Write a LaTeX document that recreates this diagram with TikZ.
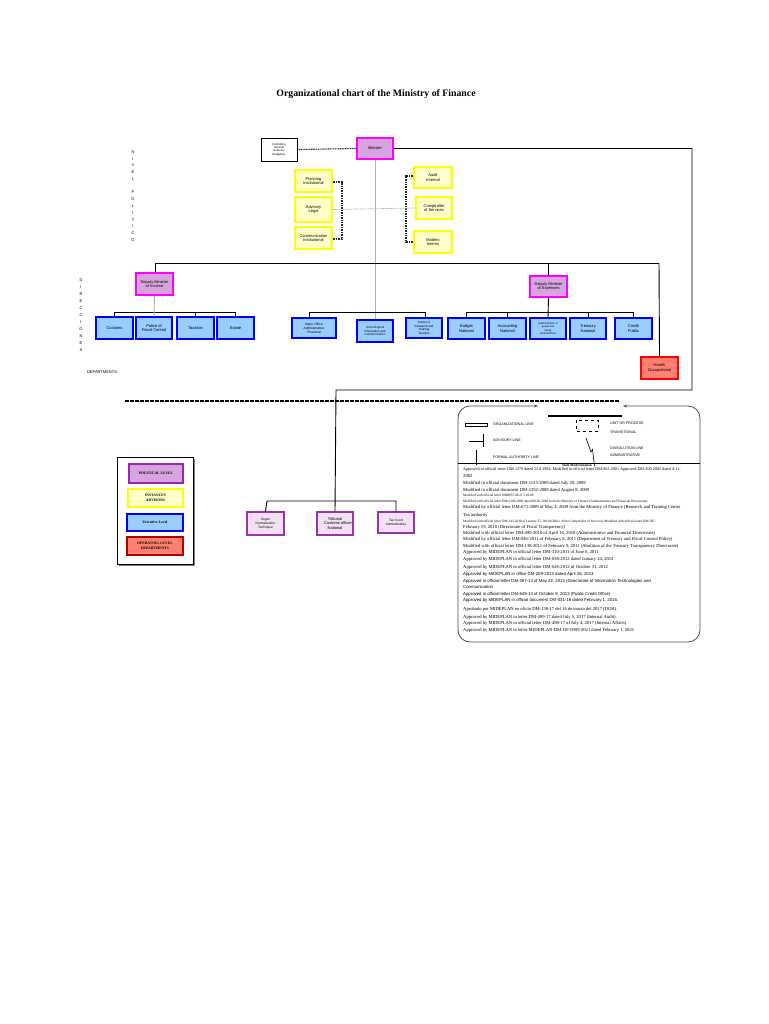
\documentclass[tikz,border=0pt]{standalone}
\usepackage{fontspec}
\setmainfont{Liberation Serif}
\setsansfont{Liberation Sans}
\usetikzlibrary{arrows.meta}

\definecolor{polfill}{RGB}{216,164,224}
\definecolor{polline}{RGB}{255,0,255}
\definecolor{advfill}{RGB}{255,255,200}
\definecolor{advline}{RGB}{255,255,0}
\definecolor{exefill}{RGB}{153,204,255}
\definecolor{exeline}{RGB}{0,0,255}
\definecolor{opefill}{RGB}{255,128,112}
\definecolor{opeline}{RGB}{255,0,0}
\definecolor{trifill}{RGB}{242,224,245}
\definecolor{triline}{RGB}{153,51,170}
\definecolor{legpol}{RGB}{150,40,170}

\newcommand\txA{\fontsize{4.6}{5}\selectfont}
\newcommand\txB{\fontsize{4.1}{5}\selectfont}
\newcommand\txS{\fontsize{3.4}{4}\selectfont}
\newcommand\txF{\sffamily\fontsize{4.3}{5}\selectfont}
\newcommand\tline[4]{\node[anchor=base west, inner sep=0pt, font=#3] (#1) at (463,#2) {#4};}

\tikzset{
 box/.style={rectangle, inner sep=0pt, align=center, font=\sffamily\fontsize{4}{4.6}\selectfont, line width=1.1pt},
 polbox/.style={box, draw=polline, fill=polfill},
 advbox/.style={box, draw=advline, fill=advfill},
 exebox/.style={box, draw=exeline, fill=exefill},
 opebox/.style={box, draw=opeline, fill=opefill},
 tribox/.style={box, draw=triline, fill=trifill},
 conn/.style={draw=black, line width=0.9pt},
 grayconn/.style={draw=black!30, line width=0.9pt},
 dotconn/.style={draw=black!85, line width=1.1pt, dash pattern=on 1pt off 0.7pt},
 graydot/.style={draw=black!35, line width=0.7pt, dash pattern=on 1.5pt off 1pt},
 legbox/.style={rectangle, inner sep=0pt, align=center, font=\bfseries\fontsize{3.7}{4.6}\selectfont, line width=1.1pt},
 legtxt/.style={anchor=west, inner sep=0pt, font=\sffamily\fontsize{3.6}{4}\selectfont},
 vlet/.style={inner sep=0pt, font=\sffamily\fontsize{4}{4}\selectfont},
}

\begin{document}
\begin{tikzpicture}[x=1pt,y=-1pt]
\useasboundingbox (0,0) rectangle (768,1024);
\fill[white] (0,0) rectangle (768,1024);

% title
\node[font=\bfseries\fontsize{9.8}{12}\selectfont] (title) at (376,94) {Organizational chart of the Ministry of Finance};

% side labels
\foreach \l [count=\i] in {N,I,V,E,L,{},P,O,L,I,T,I,C,O}
  \node[vlet] (nv\i) at (133,{152+(\i-1)*6.77}) {\l};
\foreach \l [count=\i] in {D,I,R,E,C,C,I,O,N,E,S}
  \node[vlet] (dr\i) at (81,{280+(\i-1)*7}) {\l};
\node[vlet] (dept) at (102,372) {DEPARTMENTS};

% top level
\node[box, draw=black, fill=white, line width=0.9pt, minimum width=36pt, minimum height=23pt, font=\sffamily\fontsize{2.8}{3.3}\selectfont] (ctrl) at (279,149.5) {Controlling\\ General\\ Authority\\ Budgetary};
\node[polbox, minimum width=36pt, minimum height=21pt] (minister) at (375,148.5) {Minister};

% advisors
\node[advbox, minimum width=37pt, minimum height=22pt] (plan) at (313.5,181) {Planning\\ Institutional};
\node[advbox, minimum width=37pt, minimum height=25pt] (legal) at (313.5,209.5) {Advisory\\ Legal};
\node[advbox, minimum width=37pt, minimum height=22pt] (comm) at (313.5,238) {Communication\\ Institutional};
\node[advbox, minimum width=38pt, minimum height=21pt] (audit) at (433,177.5) {Audit\\ Internal};
\node[advbox, minimum width=36pt, minimum height=22pt] (comptr) at (434,208) {Comptroller\\ of Services};
\node[advbox, minimum width=38pt, minimum height=22pt] (matters) at (433,242) {Matters\\ Interns};

% deputies
\node[polbox, minimum width=37pt, minimum height=22pt] (depL) at (154.5,284) {Deputy Minister\\ of Income};
\node[polbox, minimum width=37pt, minimum height=21pt] (depR) at (548.5,286.5) {Deputy Minister\\ of Expenses};

% left departments
\node[exebox, minimum width=37pt, minimum height=22pt] (customs) at (114.5,328) {Customs};
\node[exebox, minimum width=36pt, minimum height=22pt] (police) at (154,328) {Police of\\ Fiscal Control};
\node[exebox, minimum width=37pt, minimum height=22pt] (taxation) at (195.5,328) {Taxation};
\node[exebox, minimum width=37pt, minimum height=22pt] (estate) at (235.5,328) {Estate};

% middle
\node[exebox, minimum width=44pt, minimum height=20pt, font=\sffamily\fontsize{3.3}{4}\selectfont] (major) at (314,328) {Major Office\\ Administrative\\ Financial};
\node[exebox, minimum width=36pt, minimum height=22pt, font=\sffamily\fontsize{3}{3.6}\selectfont] (tech) at (375,331) {Technological\\ Information and\\ Communication};
\node[exebox, minimum width=36pt, minimum height=20pt, font=\sffamily\fontsize{3}{3.5}\selectfont] (center) at (424,328) {Center of\\ Research and\\ Training\\ Taxation};

% right departments
\node[exebox, minimum width=37pt, minimum height=21pt] (budget) at (466.5,328.5) {Budget\\ National};
\node[exebox, minimum width=37pt, minimum height=21pt] (accounting) at (507.5,328.5) {Accounting\\ National};
\node[exebox, minimum width=36pt, minimum height=21pt, font=\sffamily\fontsize{2.6}{3.2}\selectfont] (admin) at (548,328.5) {Administration of\\ goods and\\ Hiring\\ Administrative};
\node[exebox, minimum width=36pt, minimum height=21pt] (treasury) at (588,328.5) {Treasury\\ National};
\node[exebox, minimum width=37pt, minimum height=21pt] (credit) at (633.5,328.5) {Credit\\ Public};

\node[opebox, minimum width=37pt, minimum height=22pt] (health) at (659.5,368) {Health\\ Occupational};

% bottom tribunals
\node[tribox, minimum width=37pt, minimum height=23pt, font=\sffamily\fontsize{3.2}{3.8}\selectfont] (org) at (265.5,523.5) {Organ\\ Normalization\\ Technique};
\node[tribox, minimum width=36pt, minimum height=23pt] (trib) at (335,523.5) {Tribunal\\ \hspace*{6pt}Customs officer\\ National};
\node[tribox, minimum width=36pt, minimum height=21pt, font=\sffamily\fontsize{3.2}{3.8}\selectfont] (taxcourt) at (396,522.5) {Tax Court\\ Administrative};

% ---- connectors ----
\draw[dotconn] (ctrl.east) -- (minister.west);
\coordinate (rc1) at (692,148.5);
\coordinate (rc2) at (692,390);
\coordinate (rc3) at (336,390);
\draw[conn] (minister.east) -- (rc1) -- (rc2) -- (rc3) -- (trib.north);
\coordinate (bb1) at (267,501);
\coordinate (bb2) at (396,501);
\draw[conn] (org.north) -- (bb1) -- (bb2) -- (taxcourt.north);

\draw[grayconn] (minister.south) -- (tech.north);

% advisor brackets
\coordinate (lb1) at (342,182);
\coordinate (lb2) at (342,239);
\draw[dotconn] (plan.east |- lb1) -- (lb1) -- (lb2) -- (comm.east |- lb2);
\coordinate (rb1) at (406,176);
\coordinate (rb2) at (406,242);
\draw[dotconn] (audit.west |- rb1) -- (rb1) -- (rb2) -- (matters.west |- rb2);
\draw[graydot] (legal.east) -- (comptr.west);

% main horizontal
\coordinate (h1) at (155,263);
\coordinate (h2) at (659,263);
\draw[conn] (h1) -- (h2);
\draw[conn] (h1) -- (depL.north -| h1);
\draw[conn] (h2) -- (health.north);
\coordinate (h3) at (548,263);
\draw[conn] (h3) -- (depR.north -| h3);

% left bar
\coordinate (lbar1) at (114.5,312);
\coordinate (lbar2) at (235.5,312);
\draw[conn] (customs.north) -- (lbar1) -- (lbar2) -- (estate.north);
\draw[conn] (taxation.north) -- (taxation.north |- lbar1);
\draw[grayconn] (depL.south) -- (police.north);

% middle bar
\coordinate (mb1) at (309,312);
\coordinate (mb2) at (425,312);
\draw[conn] (major.north -| mb1) -- (mb1) -- (mb2) -- (center.north -| mb2);

% right bar
\coordinate (rbar1) at (466.5,312);
\coordinate (rbar2) at (633.5,312);
\draw[conn] (budget.north) -- (rbar1) -- (rbar2) -- (credit.north);
\draw[conn] (depR.south) -- (admin.north);
\draw[conn] (accounting.north) -- (accounting.north |- rbar1);
\draw[conn] (treasury.north) -- (treasury.north |- rbar1);

% thick dashed line
\coordinate (dl1) at (125,401);
\coordinate (dl2) at (620,401);
\draw[black, line width=1.8pt, dash pattern=on 3.5pt off 1.5pt] (dl1) -- (dl2);

% ---- left legend ----
\draw[black!50, line width=1pt] (118.5,565.5) -- (194.5,565.5) -- (194.5,458.5);
\node[draw=black, line width=0.9pt, minimum width=76pt, minimum height=107pt, inner sep=0pt] (legout) at (155,510.5) {};
\node[legbox, draw=legpol, fill=polfill, minimum width=54pt, minimum height=19pt] (lpol) at (156,473.5) {POLITICAL LEVEL};
\node[legbox, draw=advline, fill=advfill, minimum width=55pt, minimum height=18pt] (ladv) at (155.5,498) {INSTANCES\\ ADVISORS};
\node[legbox, draw=exeline, fill=exefill, minimum width=56pt, minimum height=17pt] (lexe) at (155,522.5) {Executive Level};
\node[legbox, draw=opeline!70!black, fill=opefill, minimum width=56pt, minimum height=18pt] (lope) at (155,546) {OPERATING LEVEL\\ DEPARTMENTS};

% ---- right legend frame ----
\draw[black!70, line width=0.8pt, rounded corners=12pt, {Stealth[length=4pt,width=3pt]}-{Stealth[length=4pt,width=3pt]}]
  (538,406) -- (458,406) -- (458,642) -- (700,642) -- (700,406) -- (623,406);
\draw[black, line width=1.2pt] (548,416) -- (622,416);
\draw[black, line width=1pt] (458,463) -- (700,463);

% legend symbols
\draw[black, line width=0.8pt] (465,423) rectangle (487,426);
\draw[black, line width=0.9pt, dashed] (576,420) rectangle (598,431);
\draw[black, line width=0.8pt] (469,441) -- (483,441);
\draw[black, line width=0.8pt] (483,434) -- (483,447);
\draw[black, line width=0.8pt] (476,450) -- (476,465);
\draw[black, line width=0.6pt] (586,438) -- (591,452) -- (592.5,449.5) -- (594.5,466);

\node[legtxt] (lg1) at (493,424) {ORGANIZATIONAL UNIT};
\node[legtxt] (lg2) at (610,423) {UNIT OR PROCESS};
\node[legtxt] (lg3) at (610,432) {TRANSITIONAL};
\node[legtxt] (lg4) at (493,440) {ADVISORY LINE};
\node[legtxt] (lg5) at (610,448) {DISSOLUTION LINE};
\node[legtxt] (lg6) at (610,455) {ADMINISTRATIVE};
\node[legtxt] (lg7) at (493,457) {FORMAL AUTHORITY LINE};
\node[inner sep=0pt, font=\bfseries\fontsize{3.4}{4}\selectfont] (lg8) at (577,465) {State Modernization};

% text block
\tline{t1}{470}{\txB}{Approved in official letter DM-1379 dated 23.8.1994, Modified in official letter DM-962-2001 Approved DM-309-2002 dated 4-11-}
\tline{t2}{477}{\txA}{2002}
\tline{t3}{484}{\txA}{Modified in official document DM-1125-2009 dated July 20, 2009}
\tline{t4}{491}{\txA}{Modified in official document DM-1252-2009 dated August 8, 2009}
\tline{t5}{496}{\txS}{Modified with official letter DM0957-06 of 5.10.06}
\tline{t6}{502}{\txS}{Modified with official letter DM-2106-2006 dated 09-06-2006 from the Ministry of Finance (Administrative and Financial Directorate)}
\tline{t7}{508}{\txA}{Modified by official letter DM-673-2009 of May 4, 2009 from the Ministry of Finance (Research and Training Center}
\tline{t8}{516}{\txA}{Tax authority}
\tline{t9}{522}{\txS}{Modified with official letter DM-143-2010 of January 25, 2010 (Office of the Comptroller of Services) Modified with official letter DM-397-}
\tline{t10}{528}{\txA}{February 19, 2010 (Directorate of Fiscal Transparency)}
\tline{t11}{534}{\txA}{Modified with official letter DM-490-2010 of April 16, 2010 (Administrative and Financial Directorate)}
\tline{t12}{540}{\txA}{Modified by official letter DM-046-2011 of February 8, 2011 (Department of Treasury and Fiscal Control Police)}
\tline{t13}{547}{\txA}{Modified with official letter DM-138-2011 of February 9, 2011 (Abolition of the Treasury Transparency Directorate)}
\tline{t14}{553}{\txA}{Approved by MIDEPLAN in official letter DM-310-2011 of June 6, 2011}
\tline{t15}{560}{\txA}{Approved by MIDEPLAN in official letter DM-038-2012 dated January 24, 2012}
\tline{t16}{568}{\txA}{Approved by MIDEPLAN in official letter DM-626-2012 of October 31, 2012}
\tline{t17}{575}{\txF}{Approved by MIDEPLAN in office DM-209-2013 dated April 26, 2013}
\tline{t18}{582}{\txF}{Approved in official letter DM-267-13 of May 22, 2013 (Directorate of Information Technologies and}
\tline{t19}{588}{\txF}{Communication}
\tline{t20}{595}{\txF}{Approved in official letter DM-649-13 of October 8, 2013 (Public Credit Office)}
\tline{t21}{601}{\txF}{Approved by MIDEPLAN in official document DM-031-16 dated February 1, 2016.}
\tline{t22}{610}{\txA}{Aprobado por MIDEPLAN en oficio DM-158-17 del 16 de marzo del 2017 (DGH).}
\tline{t23}{618}{\txA}{Approved by MIDEPLAN in letter DM-499-17 dated July 5, 2017 (Internal Audit).}
\tline{t24}{624}{\txA}{Approved by MIDEPLAN in official letter DM-498-17 of July 4, 2017 (Internal Affairs)}
\tline{t25}{631}{\txA}{Approved by MIDEPLAN in letter MIDEPLAN-DM-OF-0099-2021 dated February 1, 2021}

\end{tikzpicture}
\end{document}
